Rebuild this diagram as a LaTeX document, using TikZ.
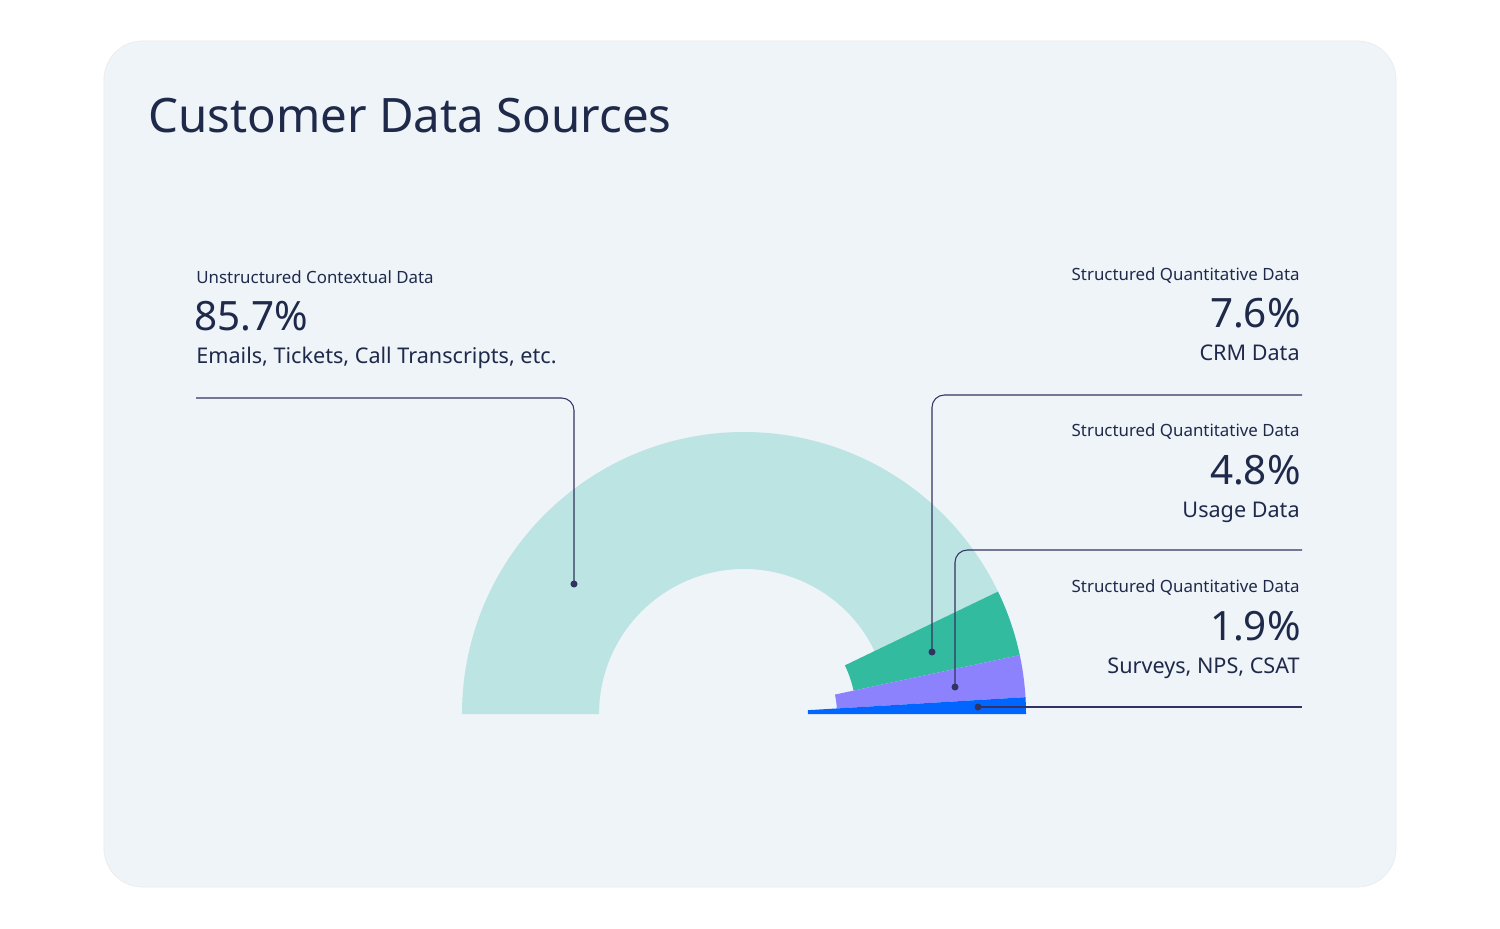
\documentclass[tikz,border=0pt]{standalone}
\usepackage{fontspec}
\setmainfont{Noto Sans}
\begin{document}
\begin{tikzpicture}[x=0.02cm,y=-0.02cm,
  lead/.style={draw=black!70!blue!60!gray,line width=0.6pt,rounded corners=7pt},
  dotc/.style={circle,fill=black!70!blue!60!gray,inner sep=0pt,minimum size=4pt},
  small/.style={font=\fontsize{9.6}{11}\selectfont,text=txt,inner sep=0pt},
  big/.style={font=\fontsize{23}{26}\selectfont\bfseries,text=txt,inner sep=0pt},
  sub/.style={font=\fontsize{12.3}{14}\selectfont,text=txt,inner sep=0pt}]
\definecolor{txt}{HTML}{1F2A4A}
\definecolor{card}{HTML}{EFF4F9}
\definecolor{c1}{HTML}{BBE4E3}
\definecolor{c2}{HTML}{33BBA0}
\definecolor{c3}{HTML}{8D82FD}
\definecolor{c4}{HTML}{0066FF}
\useasboundingbox (0,0) rectangle (1500,929);
\fill[white] (0,0) rectangle (1500,929);
\draw[fill=card,draw=black!8,rounded corners=22pt] (104,41) rectangle (1396,887);
\node[anchor=west,font=\fontsize{27}{30}\selectfont,text=txt,inner sep=0pt] (title) at (148,116) {Customer Data Sources};
% chart (center 744,714)
\def\cx{744}\def\cy{714}
\fill[c1] (\cx+282,\cy) ++(0,0) ;
\fill[c1] ({\cx+282*cos(180)},{\cy-282*sin(180)}) arc[start angle=180,end angle=25.74,radius=282*0.02cm] -- ({\cx+145*cos(25.74)},{\cy-145*sin(25.74)}) arc[start angle=25.74,end angle=180,radius=145*0.02cm] -- cycle;
\fill[c2] ({\cx+282*cos(25.74)},{\cy-282*sin(25.74)}) arc[start angle=25.74,end angle=12.06,radius=282*0.02cm] -- ({\cx+112*cos(12.06)},{\cy-112*sin(12.06)}) arc[start angle=12.06,end angle=25.74,radius=112*0.02cm] -- cycle;
\fill[c3] ({\cx+282*cos(12.06)},{\cy-282*sin(12.06)}) arc[start angle=12.06,end angle=3.42,radius=282*0.02cm] -- ({\cx+93*cos(3.42)},{\cy-93*sin(3.42)}) arc[start angle=3.42,end angle=12.06,radius=93*0.02cm] -- cycle;
\fill[c4] ({\cx+282*cos(3.42)},{\cy-282*sin(3.42)}) arc[start angle=3.42,end angle=0,radius=282*0.02cm] -- ({\cx+64},{\cy}) arc[start angle=0,end angle=3.42,radius=64*0.02cm] -- cycle;
% labels
\node[small,anchor=base west] (l1a) at (196,283) {Unstructured Contextual Data};
\node[big,anchor=base west] (l1b) at (194,330) {85.7\%};
\node[sub,anchor=base west] (l1c) at (196,363) {Emails, Tickets, Call Transcripts, etc.};
\node[small,anchor=base east] (l2a) at (1300,280) {Structured Quantitative Data};
\node[big,anchor=base east] (l2b) at (1301,327) {7.6\%};
\node[sub,anchor=base east] (l2c) at (1300,360) {CRM Data};
\node[small,anchor=base east] (l3a) at (1300,436) {Structured Quantitative Data};
\node[big,anchor=base east] (l3b) at (1301,484) {4.8\%};
\node[sub,anchor=base east] (l3c) at (1300,517) {Usage Data};
\node[small,anchor=base east] (l4a) at (1300,592) {Structured Quantitative Data};
\node[big,anchor=base east] (l4b) at (1301,640) {1.9\%};
\node[sub,anchor=base east] (l4c) at (1300,673) {Surveys, NPS, CSAT};
% leaders
\node[dotc] (d1) at (574,584) {};
\node[dotc] (d2) at (932,652) {};
\node[dotc] (d3) at (955,687) {};
\node[dotc] (d4) at (978,707) {};
\coordinate (e1) at (196,398);
\coordinate (e2) at (1302,395);
\coordinate (e3) at (1302,550);
\coordinate (e4) at (1302,707);
\draw[lead] (e1) -- (574,398) -- (d1.center);
\draw[lead] (d2.center) -- (932,395) -- (e2);
\draw[lead] (d3.center) -- (955,550) -- (e3);
\draw[lead] (d4.center) -- (e4);
\end{tikzpicture}
\end{document}
